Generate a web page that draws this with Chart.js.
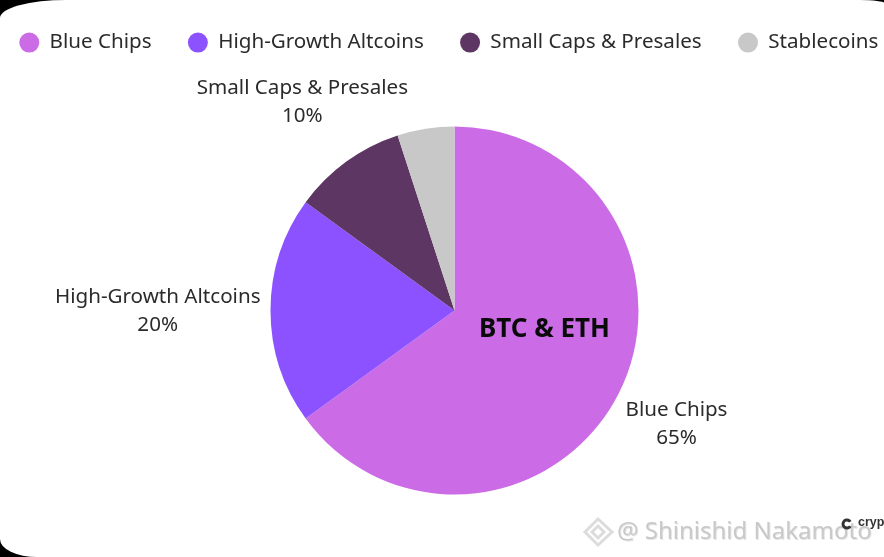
<!DOCTYPE html>
<html><head><meta charset="utf-8">
<script src="https://cdn.jsdelivr.net/npm/chart.js@4"></script>
<style>
html,body{margin:0;padding:0;width:884px;height:557px;overflow:hidden;background:#000}
#sheet{position:absolute;left:0;top:0;width:884px;height:557px;background:#fff;border-radius:66px 24px 0 37px / 18px 3px 0 18px}
#wrap{position:absolute;left:-17px;top:-4px;width:943px;height:586px}
</style></head><body>
<div id="sheet"></div>
<div id="wrap"><canvas id="c"></canvas></div>
<script>
const categories = ['Blue Chips','High-Growth Altcoins','Small Caps & Presales','Stablecoins'];
const shares = [65,20,10,5];
const sliceColors = ['#CB6CE6','#8C52FF','#5E3663','#C8C8C8'];
const labelShown = [true,true,true,false];
const labelGaps = [7,10,-10,0];
const FONT = '"Noto Sans"';
const TEXT = '#2b2b2b';

const slicePlugin = {
  id:'sliceLabels',
  afterDatasetsDraw(chart){
    const ctx = chart.ctx, meta = chart.getDatasetMeta(0);
    ctx.save();
    ctx.textAlign='center'; ctx.textBaseline='middle';
    ctx.font = '20.6px '+FONT; ctx.fillStyle = TEXT;
    meta.data.forEach((arc,i)=>{
      if(!labelShown[i]) return;
      const p = arc.getProps(['x','y','startAngle','endAngle','outerRadius'],true);
      const a = (p.startAngle+p.endAngle)/2;
      const hw = ctx.measureText(categories[i]).width/2, hh = 28;
      const r = p.outerRadius + labelGaps[i] + Math.abs(Math.cos(a))*hw + Math.abs(Math.sin(a))*hh;
      const x = p.x+Math.cos(a)*r, y = p.y+Math.sin(a)*r;
      ctx.fillText(categories[i], x, y-13);
      ctx.fillText(shares[i]+'%', x, y+15);
    });
    const c = meta.data[0];
    ctx.font = 'bold 26px '+FONT; ctx.fillStyle='#0a0a0a';
    ctx.fillText('BTC & ETH', c.x+90, c.y+19);
    // source marks (page coordinates are offset by the canvas position)
    const ox = 17, oy = 4;
    ctx.font = '24px '+FONT; ctx.textAlign='left';
    ctx.fillStyle='#e4e4e4'; ctx.fillText('@ Shinishid Nakamoto', 617+ox+1, 532+oy+1);
    ctx.fillStyle='#c9c9c9'; ctx.fillText('@ Shinishid Nakamoto', 617+ox, 532+oy);
    // diamond logo
    ctx.strokeStyle='#dcdcdc'; ctx.lineWidth=3;
    ctx.beginPath();
    ctx.moveTo(598+ox,519+oy); ctx.lineTo(612+ox,532+oy); ctx.lineTo(598+ox,545+oy); ctx.lineTo(585+ox,532+oy); ctx.closePath();
    ctx.stroke();
    ctx.beginPath();
    ctx.moveTo(598+ox,526+oy); ctx.lineTo(604+ox,532+oy); ctx.lineTo(598+ox,538+oy); ctx.lineTo(592+ox,532+oy); ctx.closePath();
    ctx.stroke();
    // crypto mark
    ctx.strokeStyle='#333'; ctx.lineWidth=3;
    ctx.beginPath(); ctx.arc(847+ox,524+oy,4,0.6,Math.PI*2-0.6); ctx.stroke();
    ctx.font = 'bold 12.5px "Liberation Sans"'; ctx.fillStyle='#333';
    ctx.fillText('crypt', 858+ox, 523+oy);
    ctx.restore();
  }
};

new Chart(document.getElementById('c'),{
  type:'pie',
  data:{labels:categories,datasets:[{data:shares,backgroundColor:sliceColors,borderWidth:0,radius:184}]},
  options:{
    responsive:true,maintainAspectRatio:false,animation:false,
    layout:{padding:{bottom:24}},
    plugins:{
      tooltip:{enabled:false},
      legend:{position:'top',align:'start',
        labels:{usePointStyle:true,pointStyle:'circle',pointStyleWidth:20,boxHeight:14.14,padding:36.3,color:TEXT,font:{family:FONT,size:20.6}}}
    }
  },
  plugins:[slicePlugin]
});
</script>
</body></html>
